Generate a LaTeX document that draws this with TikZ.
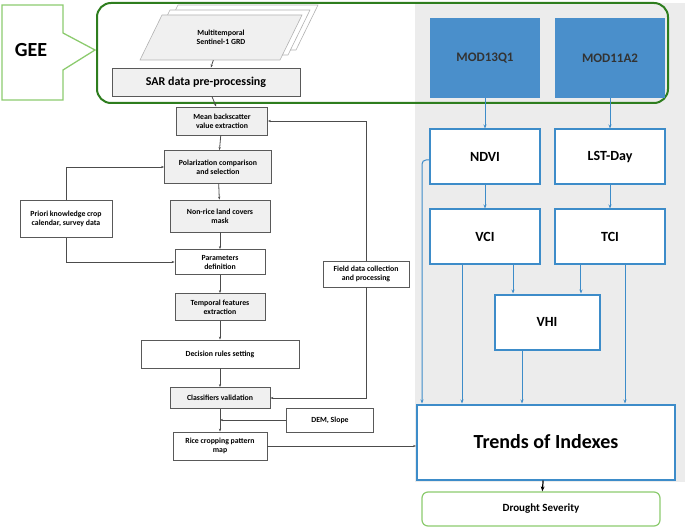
\documentclass[tikz,border=0pt]{standalone}
\usepackage{fontspec}
\setmainfont{Carlito}
\usetikzlibrary{arrows.meta,shapes.geometric}
\definecolor{gg}{HTML}{2E7D1E}
\definecolor{lg}{HTML}{8CCB6E}
\definecolor{bl}{HTML}{3D8CC9}
\definecolor{bf}{HTML}{4A8FCB}
\begin{document}
\begin{tikzpicture}[x=1pt,y=-1pt,
 gb/.style={draw=gray!70!black,fill=gray!12,line width=0.8pt,align=center,font=\bfseries\fontsize{7.8}{9}\selectfont,inner sep=1pt},
 ga/.style={draw=gray!60!black,line width=0.8pt,-{Stealth[length=3pt]}},
 bb/.style={draw=bl,fill=white,line width=2pt,font=\bfseries\fontsize{14}{16}\selectfont},
 ba/.style={draw=bl,line width=1pt,-{Stealth[length=4pt]}}]
\useasboundingbox (0,0) rectangle (685,529);
% gray panel
\fill[gray!15] (415,3) rectangle (685,482);
% GEE arrow
\draw[lg,line width=1.3pt] (2,5) -- (63,5) -- (63,33) -- (95,50) -- (63,70) -- (63,100) -- (2,100) -- cycle;
\node[font=\bfseries\fontsize{20}{22}\selectfont] (gee) at (31,50) {GEE};
% green rounded
\draw[gg,line width=2pt,rounded corners=14pt] (97,3) rectangle (668,103);
% MOD boxes
\node[fill=bf,minimum width=110pt,minimum height=80pt,font=\bfseries\fontsize{13}{15}\selectfont,text=black!80] (m1) at (485,58) {MOD13Q1};
\node[fill=bf,minimum width=110pt,minimum height=80pt,font=\bfseries\fontsize{13}{15}\selectfont,text=black!80] (m2) at (610,58) {MOD11A2};
% stacked parallelograms
\foreach \d/\e in {16/10,8/5}{\draw[gray!60,fill=white,line width=0.6pt] (140+\d,60-\e) -- (162+\d,15-\e) -- (302+\d,15-\e) -- (280+\d,60-\e) -- cycle;}
\fill[gray!12] (140,60) -- (162,15) -- (302,15) -- (280,60) -- cycle;
\draw[gray!60,line width=0.6pt] (140,60) -- (162,15) -- (302,15) -- (280,60) -- cycle;
\node[align=center,font=\bfseries\fontsize{7.8}{9}\selectfont,inner sep=0pt,minimum width=120pt,minimum height=45pt] (mt) at (221,37.5) {Multitemporal\\Sentinel-1 GRD};
\node[gb,minimum width=188pt,minimum height=28pt,font=\bfseries\fontsize{12}{14}\selectfont] (sar) at (206,82) {SAR data pre-processing};
\node[gb,minimum width=91pt,minimum height=28pt] (mb) at (222,121) {Mean backscatter\\value extraction};
\node[gb,minimum width=107pt,minimum height=33pt] (pc) at (218,167) {Polarization  comparison\\and selection};
\node[gb,minimum width=92pt,minimum height=37pt,fill=white] (pk) at (66,219) {Priori knowledge crop\\calendar, survey data};
\node[gb,minimum width=100pt,minimum height=32pt] (nr) at (220,216) {Non-rice land covers\\mask};
\node[gb,minimum width=90pt,minimum height=25pt,fill=white] (pd) at (220,262) {Parameters\\definition};
\node[gb,minimum width=90pt,minimum height=27pt] (tf) at (220,307) {Temporal features\\extraction};
\node[gb,minimum width=158pt,minimum height=28pt,fill=white] (dr) at (220,354) {Decision rules setting};
\node[gb,minimum width=100pt,minimum height=21pt] (cv) at (220,398) {Classifiers validation};
\node[gb,minimum width=86pt,minimum height=26pt,fill=white] (fd) at (366,274) {Field data collection\\and processing};
\node[gb,minimum width=87pt,minimum height=24pt,fill=white] (dem) at (330,420) {DEM, Slope};
\node[gb,minimum width=94pt,minimum height=28pt,fill=white] (rc) at (220,446) {Rice cropping pattern\\map};
\coordinate (j) at (220,420);
\draw[ga] (mt) -- (sar);
\draw[ga] (sar) -- (mb);
\draw[ga] (mb) -- (pc);
\draw[ga] (pc) -- (nr);
\draw[ga] (nr) -- (pd);
\draw[ga] (pd) -- (tf);
\draw[ga] (tf) -- (dr);
\draw[ga] (dr) -- (cv);
\draw[ga] (cv) -- (rc);
\draw[ga] (pk.north) |- (pc.west);
\draw[ga] (pk.south) |- (pd.west);
\draw[ga] (fd.north) |- (mb.east);
\draw[ga] (fd.south) |- (cv.east);
\draw[ga] (dem.west) -- (j);
% right
\node[bb,minimum width=110pt,minimum height=55pt] (ndvi) at (485,157) {NDVI};
\node[bb,minimum width=110pt,minimum height=55pt] (lst) at (610,157) {LST-Day};
\node[bb,minimum width=110pt,minimum height=55pt] (vci) at (485,237) {VCI};
\node[bb,minimum width=110pt,minimum height=55pt] (tci) at (610,237) {TCI};
\node[bb,minimum width=105pt,minimum height=55pt] (vhi) at (547,322) {VHI};
\node[bb,minimum width=258pt,minimum height=75pt,font=\bfseries\fontsize{20}{23}\selectfont] (tr) at (546,442) {Trends of Indexes};
\node[draw=lg,fill=white,line width=1.2pt,rounded corners=6pt,minimum width=238pt,minimum height=34pt,font=\bfseries\fontsize{11}{13}\selectfont] (ds) at (541,509) {Drought Severity};
\draw[ba] (m1) -- (ndvi);
\draw[ba] (m2) -- (lst);
\draw[ba] (ndvi) -- (vci);
\draw[ba] (lst) -- (tci);
\draw[ba] (vci.south -| vhi.140) -- (vhi.140);
\draw[ba] (tci.south -| vhi.40) -- (vhi.40);
\draw[ba] (vci.south -| 462,0) -- (tr.north -| 462,0);
\draw[ba] (vhi.south -| 522,0) -- (tr.north -| 522,0);
\draw[ba] (tci.south -| 625,0) -- (tr.north -| 625,0);
\draw[ba,rounded corners=4pt] (ndvi.west |- 0,160) -- (422,160) -- (tr.north -| 422,0);
\draw[ga] (rc.east) -- (tr.west |- rc.east);
\draw[line width=1.2pt,-{Stealth[length=5pt]}] (tr) -- (ds);
\end{tikzpicture}
\end{document}
